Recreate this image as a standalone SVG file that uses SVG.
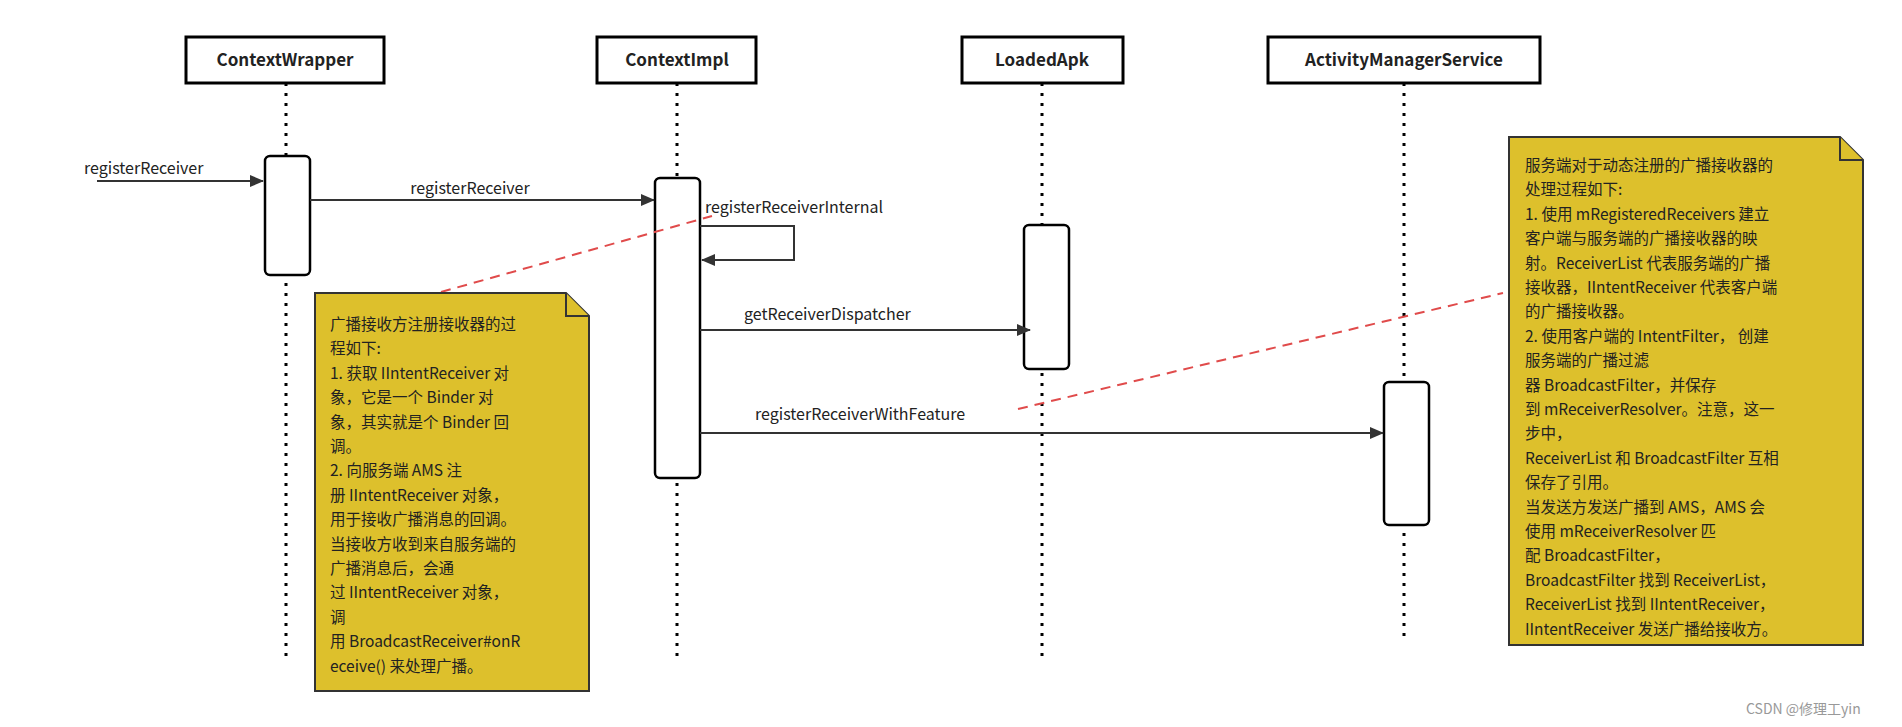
<svg xmlns="http://www.w3.org/2000/svg" width="1902" height="727" viewBox="0 0 1902 727">
<style>
text{font-family:"Noto Sans CJK SC","Noto Sans",sans-serif;fill:#222}
.h{font-size:17px;font-weight:bold;text-anchor:middle}
.l{font-size:16px}
.n{font-size:15.5px}
.box{fill:#fff;stroke:#000;stroke-width:3}
.act{fill:#fff;stroke:#000;stroke-width:2.5}
.life{stroke:#000;stroke-width:3;stroke-dasharray:3 7}
.msg{stroke:#333;stroke-width:2;fill:none}
.note{fill:#ddc02c;stroke:#333;stroke-width:2}
.dash{stroke:#e04b4b;stroke-width:2;stroke-dasharray:10 7;fill:none}
</style>
<defs><marker id="a" markerWidth="14" markerHeight="12" refX="13" refY="6" orient="auto" markerUnits="userSpaceOnUse"><path d="M0,0L14,6L0,12z" fill="#333"/></marker></defs>
<g id="connectors">
<line class="life" x1="286" y1="83" x2="286" y2="661"/>
<line class="life" x1="677" y1="83" x2="677" y2="661"/>
<line class="life" x1="1042" y1="83" x2="1042" y2="661"/>
<line class="life" x1="1404" y1="83" x2="1404" y2="642"/>
</g>
<g id="ContextWrapper"><rect class="box" x="186" y="37" width="198" height="46"/><text class="h" x="285" y="66">ContextWrapper</text></g>
<g id="ContextImpl"><rect class="box" x="597" y="37" width="159" height="46"/><text class="h" x="677" y="66">ContextImpl</text></g>
<g id="LoadedApk"><rect class="box" x="962" y="37" width="161" height="46"/><text class="h" x="1042" y="66">LoadedApk</text></g>
<g id="ActivityManagerService"><rect class="box" x="1268" y="37" width="272" height="46"/><text class="h" x="1404" y="66">ActivityManagerService</text></g>
<g id="activations">
<rect class="act" x="265" y="156" width="45" height="119" rx="5"/>
<rect class="act" x="655" y="178" width="45" height="300" rx="5"/>
<rect class="act" x="1024" y="225" width="45" height="144" rx="5"/>
<rect class="act" x="1384" y="382" width="45" height="143" rx="5"/>
</g>
<g id="messages">
<line class="msg" x1="97" y1="181" x2="263" y2="181" marker-end="url(#a)"/>
<text class="l" x="84" y="174">registerReceiver</text>
<line class="msg" x1="310" y1="200" x2="654" y2="200" marker-end="url(#a)"/>
<text class="l" x="470" y="194" text-anchor="middle">registerReceiver</text>
<path class="msg" d="M700,226H794V260H702" marker-end="url(#a)"/>
<text class="l" x="705" y="213">registerReceiverInternal</text>
<line class="msg" x1="700" y1="330" x2="1030" y2="330" marker-end="url(#a)"/>
<text class="l" x="744" y="320">getReceiverDispatcher</text>
<line class="msg" x1="700" y1="433" x2="1383" y2="433" marker-end="url(#a)"/>
<text class="l" x="755" y="420">registerReceiverWithFeature</text>
<line class="dash" x1="441" y1="292" x2="712" y2="216"/>
<line class="dash" x1="1018" y1="409" x2="1503" y2="293"/>
</g>
<g id="note-left">
<path class="note" d="M315,293H566L589,316V691H315Z"/>
<path class="note" d="M566,293V316H589" fill="none"/>
<text class="n" x="330"><tspan x="330" y="330">广播接收方注册接收器的过</tspan><tspan x="330" dy="24.4">程如下:</tspan><tspan x="330" dy="24.4">1. 获取 IIntentReceiver 对</tspan><tspan x="330" dy="24.4">象，它是一个 Binder 对</tspan><tspan x="330" dy="24.4">象，其实就是个 Binder 回</tspan><tspan x="330" dy="24.4">调。</tspan><tspan x="330" dy="24.4">2. 向服务端 AMS 注</tspan><tspan x="330" dy="24.4">册 IIntentReceiver 对象，</tspan><tspan x="330" dy="24.4">用于接收广播消息的回调。</tspan><tspan x="330" dy="24.4">当接收方收到来自服务端的</tspan><tspan x="330" dy="24.4">广播消息后，会通</tspan><tspan x="330" dy="24.4">过 IIntentReceiver 对象，</tspan><tspan x="330" dy="24.4">调</tspan><tspan x="330" dy="24.4">用 BroadcastReceiver#onR</tspan><tspan x="330" dy="24.4">eceive() 来处理广播。</tspan></text>
</g>
<g id="note-right">
<path class="note" d="M1509,137H1840L1863,160V645H1509Z"/>
<path class="note" d="M1840,137V160H1863" fill="none"/>
<text class="n"><tspan x="1525" y="171">服务端对于动态注册的广播接收器的</tspan><tspan x="1525" dy="24.4">处理过程如下:</tspan><tspan x="1525" dy="24.4">1. 使用 mRegisteredReceivers 建立</tspan><tspan x="1525" dy="24.4">客户端与服务端的广播接收器的映</tspan><tspan x="1525" dy="24.4">射。ReceiverList 代表服务端的广播</tspan><tspan x="1525" dy="24.4">接收器，IIntentReceiver 代表客户端</tspan><tspan x="1525" dy="24.4">的广播接收器。</tspan><tspan x="1525" dy="24.4">2. 使用客户端的 IntentFilter， 创建</tspan><tspan x="1525" dy="24.4">服务端的广播过滤</tspan><tspan x="1525" dy="24.4">器 BroadcastFilter，并保存</tspan><tspan x="1525" dy="24.4">到 mReceiverResolver。注意，这一</tspan><tspan x="1525" dy="24.4">步中，</tspan><tspan x="1525" dy="24.4">ReceiverList 和 BroadcastFilter 互相</tspan><tspan x="1525" dy="24.4">保存了引用。</tspan><tspan x="1525" dy="24.4">当发送方发送广播到 AMS，AMS 会</tspan><tspan x="1525" dy="24.4">使用 mReceiverResolver 匹</tspan><tspan x="1525" dy="24.4">配 BroadcastFilter，</tspan><tspan x="1525" dy="24.4">BroadcastFilter 找到 ReceiverList，</tspan><tspan x="1525" dy="24.4">ReceiverList 找到 IIntentReceiver，</tspan><tspan x="1525" dy="24.4">IIntentReceiver 发送广播给接收方。</tspan></text>
</g>
<text x="1746" y="714" font-size="14" style="fill:#999">CSDN @修理工yin</text>
</svg>
